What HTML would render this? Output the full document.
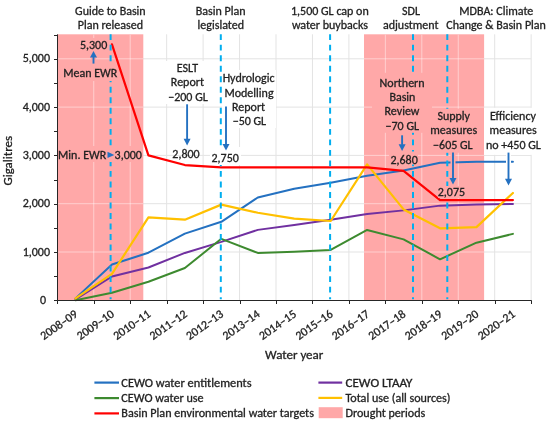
<!DOCTYPE html>
<html><head><meta charset="utf-8"><style>
html,body{margin:0;padding:0;background:#fff;}
svg{display:block;filter:blur(0.3px);}
text{font-family:Carlito, 'Liberation Sans', sans-serif;fill:#222222;stroke:#222222;stroke-width:0.3px;}
</style></head><body>
<svg width="550" height="424" viewBox="0 0 550 424">
<rect width="550" height="424" fill="#fff"/>
<path d="M93.75 34.30V300.30M130.20 34.30V300.30M166.65 34.30V300.30M203.10 34.30V300.30M239.55 34.30V300.30M276.00 34.30V300.30M312.45 34.30V300.30M348.90 34.30V300.30M385.35 34.30V300.30M421.80 34.30V300.30M458.25 34.30V300.30M494.70 34.30V300.30M531.15 34.30V300.30M57.30 252.00H531.15M57.30 203.70H531.15M57.30 155.40H531.15M57.30 107.10H531.15M57.30 58.80H531.15" stroke="#E3E3E3" stroke-width="1" fill="none"/>
<clipPath id="pk"><rect x="58.0" y="34.30" width="85.30" height="266.00"/><rect x="364.0" y="34.30" width="120.10" height="266.00"/></clipPath>
<rect x="58.0" y="34.30" width="85.30" height="266.00" fill="#FFA8A8"/>
<rect x="364.0" y="34.30" width="120.10" height="266.00" fill="#FFA8A8"/>
<path d="M93.75 34.30V300.30M130.20 34.30V300.30M166.65 34.30V300.30M203.10 34.30V300.30M239.55 34.30V300.30M276.00 34.30V300.30M312.45 34.30V300.30M348.90 34.30V300.30M385.35 34.30V300.30M421.80 34.30V300.30M458.25 34.30V300.30M494.70 34.30V300.30M531.15 34.30V300.30M57.30 252.00H531.15M57.30 203.70H531.15M57.30 155.40H531.15M57.30 107.10H531.15M57.30 58.80H531.15" stroke="#FFFFFF" stroke-opacity="0.45" stroke-width="1" fill="none" clip-path="url(#pk)"/>
<polyline points="75.53,298.37 111.97,264.51 148.43,252.72 184.88,233.60 221.32,221.81 257.78,197.52 294.23,188.68 330.68,182.79 367.13,175.69 403.58,170.52 440.03,162.65 476.48,161.68 512.93,161.68" fill="none" stroke="#2471C1" stroke-width="2.0" stroke-linejoin="round" stroke-linecap="round"/>
<polyline points="75.53,299.33 111.97,276.49 148.43,267.50 184.88,252.92 221.32,241.91 257.78,229.88 294.23,224.95 330.68,219.64 367.13,214.08 403.58,210.37 440.03,205.63 476.48,204.52 512.93,203.89" fill="none" stroke="#7030A0" stroke-width="2.0" stroke-linejoin="round" stroke-linecap="round"/>
<polyline points="75.53,300.30 111.97,292.81 148.43,281.70 184.88,267.99 221.32,238.81 257.78,252.92 294.23,251.71 330.68,249.92 367.13,229.93 403.58,239.39 440.03,259.29 476.48,242.68 512.93,233.89" fill="none" stroke="#3D8A2F" stroke-width="2.0" stroke-linejoin="round" stroke-linecap="round"/>
<polyline points="75.53,298.37 111.97,273.88 148.43,217.32 184.88,219.69 221.32,204.62 257.78,212.78 294.23,218.67 330.68,220.99 367.13,164.43 403.58,209.40 440.03,228.33 476.48,227.08 512.93,192.98" fill="none" stroke="#FFC000" stroke-width="2.2" stroke-linejoin="round" stroke-linecap="round"/>
<polyline points="111.97,44.31 148.43,155.40 184.88,165.06 221.32,167.47 257.78,167.47 294.23,167.47 330.68,167.47 367.13,167.47 403.58,170.86 440.03,200.08 476.48,200.08 512.93,200.08" fill="none" stroke="#FF0000" stroke-width="2.2" stroke-linejoin="round" stroke-linecap="round"/>
<line x1="110.6" y1="34.2" x2="110.6" y2="299.30" stroke="#00AEEF" stroke-width="2" stroke-dasharray="5.9 4.62"/>
<line x1="220.8" y1="34.2" x2="220.8" y2="299.30" stroke="#00AEEF" stroke-width="2" stroke-dasharray="5.9 4.62"/>
<line x1="330.1" y1="34.2" x2="330.1" y2="299.30" stroke="#00AEEF" stroke-width="2" stroke-dasharray="5.9 4.62"/>
<line x1="413.0" y1="34.2" x2="413.0" y2="299.30" stroke="#00AEEF" stroke-width="2" stroke-dasharray="5.9 4.62"/>
<line x1="447.3" y1="34.2" x2="447.3" y2="299.30" stroke="#00AEEF" stroke-width="2" stroke-dasharray="5.9 4.62"/>
<rect x="78" y="38" width="31" height="14" fill="#FFA8A8"/>
<rect x="62" y="63" width="55" height="18" fill="#FFA8A8"/>
<rect x="58" y="146" width="85" height="16" fill="#FFA8A8"/>
<rect x="165" y="61" width="45" height="43" fill="#fff"/>
<rect x="222" y="70" width="54" height="58" fill="#fff"/>
<rect x="210" y="147" width="31" height="18" fill="#fff"/>
<rect x="389" y="151.5" width="29" height="13.0" fill="#FFA8A8"/>
<rect x="438" y="186" width="29" height="12" fill="#FFA8A8"/>
<path d="M57.50 34.30V300.50M54.00 300.50H57.50M54.00 276.50H57.50M54.00 252.50H57.50M54.00 228.50H57.50M54.00 204.50H57.50M54.00 180.50H57.50M54.00 155.50H57.50M54.00 131.50H57.50M54.00 107.50H57.50M54.00 83.50H57.50M54.00 59.50H57.50M54.00 35.50H57.50M57.50 300.50H531.65M57.50 300.50V304.00M94.50 300.50V304.00M130.50 300.50V304.00M167.50 300.50V304.00M203.50 300.50V304.00M240.50 300.50V304.00M276.50 300.50V304.00M312.50 300.50V304.00M349.50 300.50V304.00M385.50 300.50V304.00M422.50 300.50V304.00M458.50 300.50V304.00M495.50 300.50V304.00M531.50 300.50V304.00" stroke="#262626" stroke-width="1" fill="none"/>
<text x="46.20" y="303.90" text-anchor="end" font-size="12" textLength="6.09" lengthAdjust="spacingAndGlyphs">0</text>
<text x="50.00" y="255.60" text-anchor="end" font-size="12" textLength="27.33" lengthAdjust="spacingAndGlyphs">1,000</text>
<text x="50.00" y="207.30" text-anchor="end" font-size="12" textLength="27.33" lengthAdjust="spacingAndGlyphs">2,000</text>
<text x="50.00" y="159.00" text-anchor="end" font-size="12" textLength="27.33" lengthAdjust="spacingAndGlyphs">3,000</text>
<text x="50.00" y="110.70" text-anchor="end" font-size="12" textLength="27.33" lengthAdjust="spacingAndGlyphs">4,000</text>
<text x="50.00" y="62.40" text-anchor="end" font-size="12" textLength="27.33" lengthAdjust="spacingAndGlyphs">5,000</text>
<text x="78.53" y="315.80" text-anchor="end" font-size="12" textLength="42.47" lengthAdjust="spacingAndGlyphs" transform="rotate(-35 78.53 315.80)">2008–09</text>
<text x="114.97" y="315.80" text-anchor="end" font-size="12" textLength="42.47" lengthAdjust="spacingAndGlyphs" transform="rotate(-35 114.97 315.80)">2009–10</text>
<text x="151.43" y="315.80" text-anchor="end" font-size="12" textLength="42.47" lengthAdjust="spacingAndGlyphs" transform="rotate(-35 151.43 315.80)">2010–11</text>
<text x="187.88" y="315.80" text-anchor="end" font-size="12" textLength="42.47" lengthAdjust="spacingAndGlyphs" transform="rotate(-35 187.88 315.80)">2011–12</text>
<text x="224.32" y="315.80" text-anchor="end" font-size="12" textLength="42.47" lengthAdjust="spacingAndGlyphs" transform="rotate(-35 224.32 315.80)">2012–13</text>
<text x="260.78" y="315.80" text-anchor="end" font-size="12" textLength="42.47" lengthAdjust="spacingAndGlyphs" transform="rotate(-35 260.78 315.80)">2013–14</text>
<text x="297.23" y="315.80" text-anchor="end" font-size="12" textLength="42.47" lengthAdjust="spacingAndGlyphs" transform="rotate(-35 297.23 315.80)">2014–15</text>
<text x="333.68" y="315.80" text-anchor="end" font-size="12" textLength="42.47" lengthAdjust="spacingAndGlyphs" transform="rotate(-35 333.68 315.80)">2015–16</text>
<text x="370.13" y="315.80" text-anchor="end" font-size="12" textLength="42.47" lengthAdjust="spacingAndGlyphs" transform="rotate(-35 370.13 315.80)">2016–17</text>
<text x="406.58" y="315.80" text-anchor="end" font-size="12" textLength="42.47" lengthAdjust="spacingAndGlyphs" transform="rotate(-35 406.58 315.80)">2017–18</text>
<text x="443.03" y="315.80" text-anchor="end" font-size="12" textLength="42.47" lengthAdjust="spacingAndGlyphs" transform="rotate(-35 443.03 315.80)">2018–19</text>
<text x="479.48" y="315.80" text-anchor="end" font-size="12" textLength="42.47" lengthAdjust="spacingAndGlyphs" transform="rotate(-35 479.48 315.80)">2019–20</text>
<text x="515.93" y="315.80" text-anchor="end" font-size="12" textLength="42.47" lengthAdjust="spacingAndGlyphs" transform="rotate(-35 515.93 315.80)">2020–21</text>
<text x="12.20" y="160.70" text-anchor="middle" font-size="13" textLength="49.53" lengthAdjust="spacingAndGlyphs" transform="rotate(-90 12.2 160.7)">Gigalitres</text>
<text x="294.20" y="359.00" text-anchor="middle" font-size="13" textLength="58.34" lengthAdjust="spacingAndGlyphs">Water year</text>
<text x="110.40" y="14.80" text-anchor="middle" font-size="12" textLength="70.59" lengthAdjust="spacingAndGlyphs">Guide to Basin</text>
<text x="110.40" y="28.60" text-anchor="middle" font-size="12" textLength="65.16" lengthAdjust="spacingAndGlyphs">Plan released</text>
<text x="220.60" y="14.80" text-anchor="middle" font-size="12" textLength="49.75" lengthAdjust="spacingAndGlyphs">Basin Plan</text>
<text x="220.80" y="28.60" text-anchor="middle" font-size="12" textLength="46.39" lengthAdjust="spacingAndGlyphs">legislated</text>
<text x="329.90" y="14.80" text-anchor="middle" font-size="12" textLength="77.75" lengthAdjust="spacingAndGlyphs">1,500 GL cap on</text>
<text x="329.90" y="28.60" text-anchor="middle" font-size="12" textLength="76.05" lengthAdjust="spacingAndGlyphs">water buybacks</text>
<text x="411.00" y="14.80" text-anchor="middle" font-size="12" textLength="17.95" lengthAdjust="spacingAndGlyphs">SDL</text>
<text x="410.70" y="28.60" text-anchor="middle" font-size="12" textLength="55.58" lengthAdjust="spacingAndGlyphs">adjustment</text>
<text x="496.30" y="14.80" text-anchor="middle" font-size="12" textLength="73.92" lengthAdjust="spacingAndGlyphs">MDBA: Climate</text>
<text x="496.10" y="28.60" text-anchor="middle" font-size="12" textLength="99.64" lengthAdjust="spacingAndGlyphs">Change &amp; Basin Plan</text>
<g transform="translate(0 0.8)">
<text x="93.60" y="48.70" text-anchor="middle" font-size="12" textLength="27.33" lengthAdjust="spacingAndGlyphs">5,300</text>
<text x="90.20" y="76.40" text-anchor="middle" font-size="12" textLength="54.05" lengthAdjust="spacingAndGlyphs">Mean EWR</text>
<text x="58.10" y="158.30" text-anchor="start" font-size="12" textLength="48.12" lengthAdjust="spacingAndGlyphs">Min. EWR</text>
<text x="114.60" y="158.30" text-anchor="start" font-size="12" textLength="27.33" lengthAdjust="spacingAndGlyphs">3,000</text>
<text x="187.40" y="71.30" text-anchor="middle" font-size="12" textLength="21.28" lengthAdjust="spacingAndGlyphs">ESLT</text>
<text x="187.40" y="85.60" text-anchor="middle" font-size="12" textLength="33.12" lengthAdjust="spacingAndGlyphs">Report</text>
<text x="188.00" y="99.90" text-anchor="middle" font-size="12" textLength="39.56" lengthAdjust="spacingAndGlyphs">−200 GL</text>
<text x="186.00" y="157.50" text-anchor="middle" font-size="12" textLength="27.33" lengthAdjust="spacingAndGlyphs">2,800</text>
<text x="248.60" y="81.70" text-anchor="middle" font-size="12" textLength="51.95" lengthAdjust="spacingAndGlyphs">Hydrologic</text>
<text x="249.00" y="95.90" text-anchor="middle" font-size="12" textLength="49.08" lengthAdjust="spacingAndGlyphs">Modelling</text>
<text x="248.60" y="110.00" text-anchor="middle" font-size="12" textLength="33.12" lengthAdjust="spacingAndGlyphs">Report</text>
<text x="249.40" y="124.00" text-anchor="middle" font-size="12" textLength="33.47" lengthAdjust="spacingAndGlyphs">−50 GL</text>
<text x="225.20" y="161.40" text-anchor="middle" font-size="12" textLength="27.33" lengthAdjust="spacingAndGlyphs">2,750</text>
<rect x="372" y="72" width="60" height="60" fill="#FFA8A8"/>
<rect x="424" y="108" width="59.6" height="44" fill="#FFA8A8"/>
<rect x="484" y="107" width="62" height="47" fill="#fff"/>
<text x="402.10" y="86.00" text-anchor="middle" font-size="12" textLength="45.05" lengthAdjust="spacingAndGlyphs">Northern</text>
<text x="402.40" y="100.30" text-anchor="middle" font-size="12" textLength="26.03" lengthAdjust="spacingAndGlyphs">Basin</text>
<text x="402.00" y="114.50" text-anchor="middle" font-size="12" textLength="34.89" lengthAdjust="spacingAndGlyphs">Review</text>
<text x="402.30" y="128.80" text-anchor="middle" font-size="12" textLength="33.47" lengthAdjust="spacingAndGlyphs">−70 GL</text>
<text x="404.10" y="163.10" text-anchor="middle" font-size="12" textLength="27.33" lengthAdjust="spacingAndGlyphs">2,680</text>
<text x="453.70" y="119.40" text-anchor="middle" font-size="12" textLength="32.62" lengthAdjust="spacingAndGlyphs">Supply</text>
<text x="453.70" y="133.60" text-anchor="middle" font-size="12" textLength="47.00" lengthAdjust="spacingAndGlyphs">measures</text>
<text x="452.90" y="148.00" text-anchor="middle" font-size="12" textLength="39.56" lengthAdjust="spacingAndGlyphs">−605 GL</text>
<text x="513.00" y="119.40" text-anchor="middle" font-size="12" textLength="45.80" lengthAdjust="spacingAndGlyphs">Efficiency</text>
<text x="513.10" y="133.60" text-anchor="middle" font-size="12" textLength="47.00" lengthAdjust="spacingAndGlyphs">measures</text>
<text x="513.40" y="148.00" text-anchor="middle" font-size="12" textLength="54.91" lengthAdjust="spacingAndGlyphs">no +450 GL</text>
<text x="451.40" y="195.70" text-anchor="middle" font-size="12" textLength="27.33" lengthAdjust="spacingAndGlyphs">2,075</text>
</g>
<path d="M93.50 63.60V50.90" stroke="#FFA8A8" stroke-width="5"/>
<path d="M93.50 63.60V57.00" stroke="#2471C1" stroke-width="1.9"/>
<path d="M90.00 57.50L97.00 57.50L93.50 50.90Z" fill="#2471C1"/>
<path d="M107.5 151.7L114.3 154.9L107.5 158.1Z" fill="#2471C1"/>
<path d="M187.10 104.30V145.40" stroke="#fff" stroke-width="5"/>
<path d="M187.10 104.30V139.30" stroke="#2471C1" stroke-width="1.9"/>
<path d="M183.60 138.80L190.60 138.80L187.10 145.40Z" fill="#2471C1"/>
<path d="M226.00 106.60V150.60" stroke="#fff" stroke-width="5"/>
<path d="M226.00 106.60V144.50" stroke="#2471C1" stroke-width="1.9"/>
<path d="M222.50 144.00L229.50 144.00L226.00 150.60Z" fill="#2471C1"/>
<path d="M402.10 135.30V150.90" stroke="#FFA8A8" stroke-width="5"/>
<path d="M402.10 135.30V144.80" stroke="#2471C1" stroke-width="1.9"/>
<path d="M398.60 144.30L405.60 144.30L402.10 150.90Z" fill="#2471C1"/>
<path d="M453.00 152.60V184.50" stroke="#FFA8A8" stroke-width="5"/>
<path d="M453.00 152.60V178.40" stroke="#2471C1" stroke-width="1.9"/>
<path d="M449.50 177.90L456.50 177.90L453.00 184.50Z" fill="#2471C1"/>
<path d="M508.50 152.60V185.40" stroke="#fff" stroke-width="5"/>
<path d="M508.50 152.60V179.30" stroke="#2471C1" stroke-width="1.9"/>
<path d="M505.00 178.80L512.00 178.80L508.50 185.40Z" fill="#2471C1"/>
<line x1="94.4" y1="382.6" x2="119.0" y2="382.6" stroke="#2471C1" stroke-width="2.2"/>
<text x="121.30" y="386.50" text-anchor="start" font-size="12" textLength="130.30" lengthAdjust="spacingAndGlyphs">CEWO water entitlements</text>
<line x1="94.4" y1="398.1" x2="119.0" y2="398.1" stroke="#3D8A2F" stroke-width="2.2"/>
<text x="121.30" y="401.90" text-anchor="start" font-size="12" textLength="82.30" lengthAdjust="spacingAndGlyphs">CEWO water use</text>
<line x1="94.4" y1="413.4" x2="119.0" y2="413.4" stroke="#FF0000" stroke-width="2.2"/>
<text x="121.30" y="417.10" text-anchor="start" font-size="12" textLength="192.60" lengthAdjust="spacingAndGlyphs">Basin Plan environmental water targets</text>
<line x1="318.4" y1="382.6" x2="342.2" y2="382.6" stroke="#7030A0" stroke-width="2.2"/>
<text x="345.50" y="386.50" text-anchor="start" font-size="12" textLength="67.00" lengthAdjust="spacingAndGlyphs">CEWO LTAAY</text>
<line x1="318.4" y1="397.9" x2="342.2" y2="397.9" stroke="#FFC000" stroke-width="2.2"/>
<text x="345.50" y="401.90" text-anchor="start" font-size="12" textLength="105.00" lengthAdjust="spacingAndGlyphs">Total use (all sources)</text>
<rect x="318.7" y="407.2" width="24" height="11" fill="#FFA8A8"/>
<text x="345.50" y="417.10" text-anchor="start" font-size="12" textLength="79.80" lengthAdjust="spacingAndGlyphs">Drought periods</text>
</svg>
</body></html>
